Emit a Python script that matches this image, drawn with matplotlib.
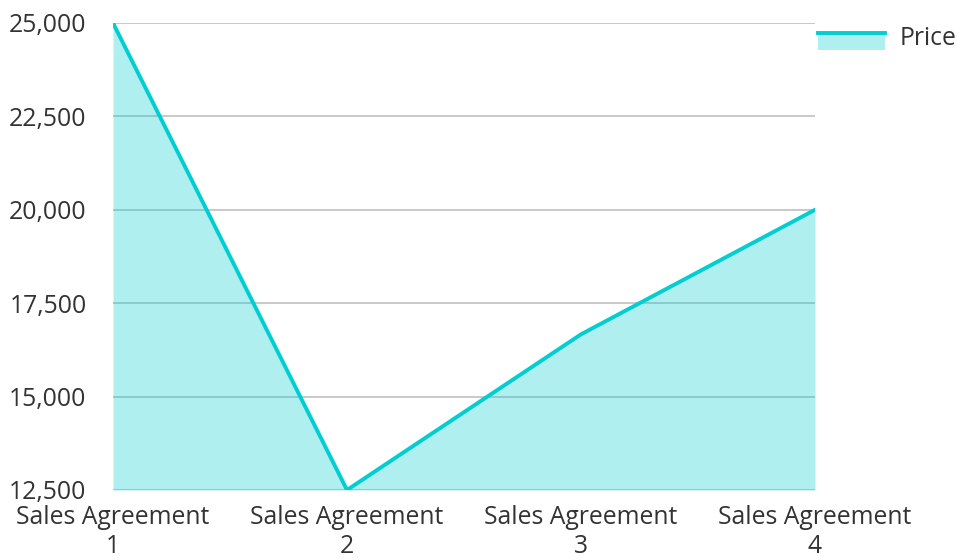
import matplotlib
matplotlib.use("Agg")
import matplotlib.pyplot as plt
from matplotlib.ticker import FuncFormatter
from matplotlib.patches import Rectangle
from matplotlib.lines import Line2D
from matplotlib.legend_handler import HandlerBase

categories = ["Sales Agreement\n1", "Sales Agreement\n2", "Sales Agreement\n3", "Sales Agreement\n4"]
price = [25000, 12500, 16667, 20000]
yticks = [12500, 15000, 17500, 20000, 22500, 25000]

plt.rcParams['font.family'] = ['Open Sans', 'DejaVu Sans']

fig = plt.figure(figsize=(9.57, 5.60), dpi=100)
ax = fig.add_axes([113/957, 1 - 490/560, (815-113)/957, (490-23)/560])

line_color = "#00CED1"
fill_color = "#00CED1"
x = list(range(len(categories)))
FS = 17.8

ax.set_ylim(12500, 25000)
ax.set_xlim(0, len(categories) - 1)
ax.set_yticks(yticks)
ax.yaxis.set_major_formatter(FuncFormatter(lambda v, p: f"{int(v):,}"))
ax.grid(axis='y', color="#c0c0c0", linewidth=1.2)
ax.set_axisbelow(True)
ax.fill_between(x, price, 12500, color=fill_color, alpha=0.31, linewidth=0, zorder=2)
ax.plot(x, price, color=line_color, linewidth=2.8, zorder=3)

ax.set_xticks(x)
ax.set_xticklabels(categories, fontsize=FS, color="#333333", linespacing=1.22)
ax.tick_params(axis='y', labelsize=FS, colors="#333333", length=0, pad=19)
ax.tick_params(axis='x', length=0, pad=11)
for s in ax.spines.values():
    s.set_visible(False)


class AreaHandler(HandlerBase):
    def create_artists(self, legend, orig_handle, xdescent, ydescent, width, height, fontsize, trans):
        rect = Rectangle((-xdescent, -ydescent - height * 0.25), width, height * 0.95,
                         facecolor=line_color, alpha=0.31, edgecolor='none', transform=trans)
        ln = Line2D([-xdescent, -xdescent + width], [-ydescent + height * 0.7] * 2,
                    color=line_color, linewidth=2.8, transform=trans)
        return [rect, ln]


proxy = Rectangle((0, 0), 1, 1)
fig.legend(handles=[proxy], labels=["Price"], loc='upper right',
           bbox_to_anchor=(1.0 + 22/957, 1.0 - 4/560),
           frameon=False, fontsize=FS, handlelength=2.7, handletextpad=0.6,
           handler_map={Rectangle: AreaHandler()}, labelcolor="#333333")

fig.savefig("out.png", dpi=100)
